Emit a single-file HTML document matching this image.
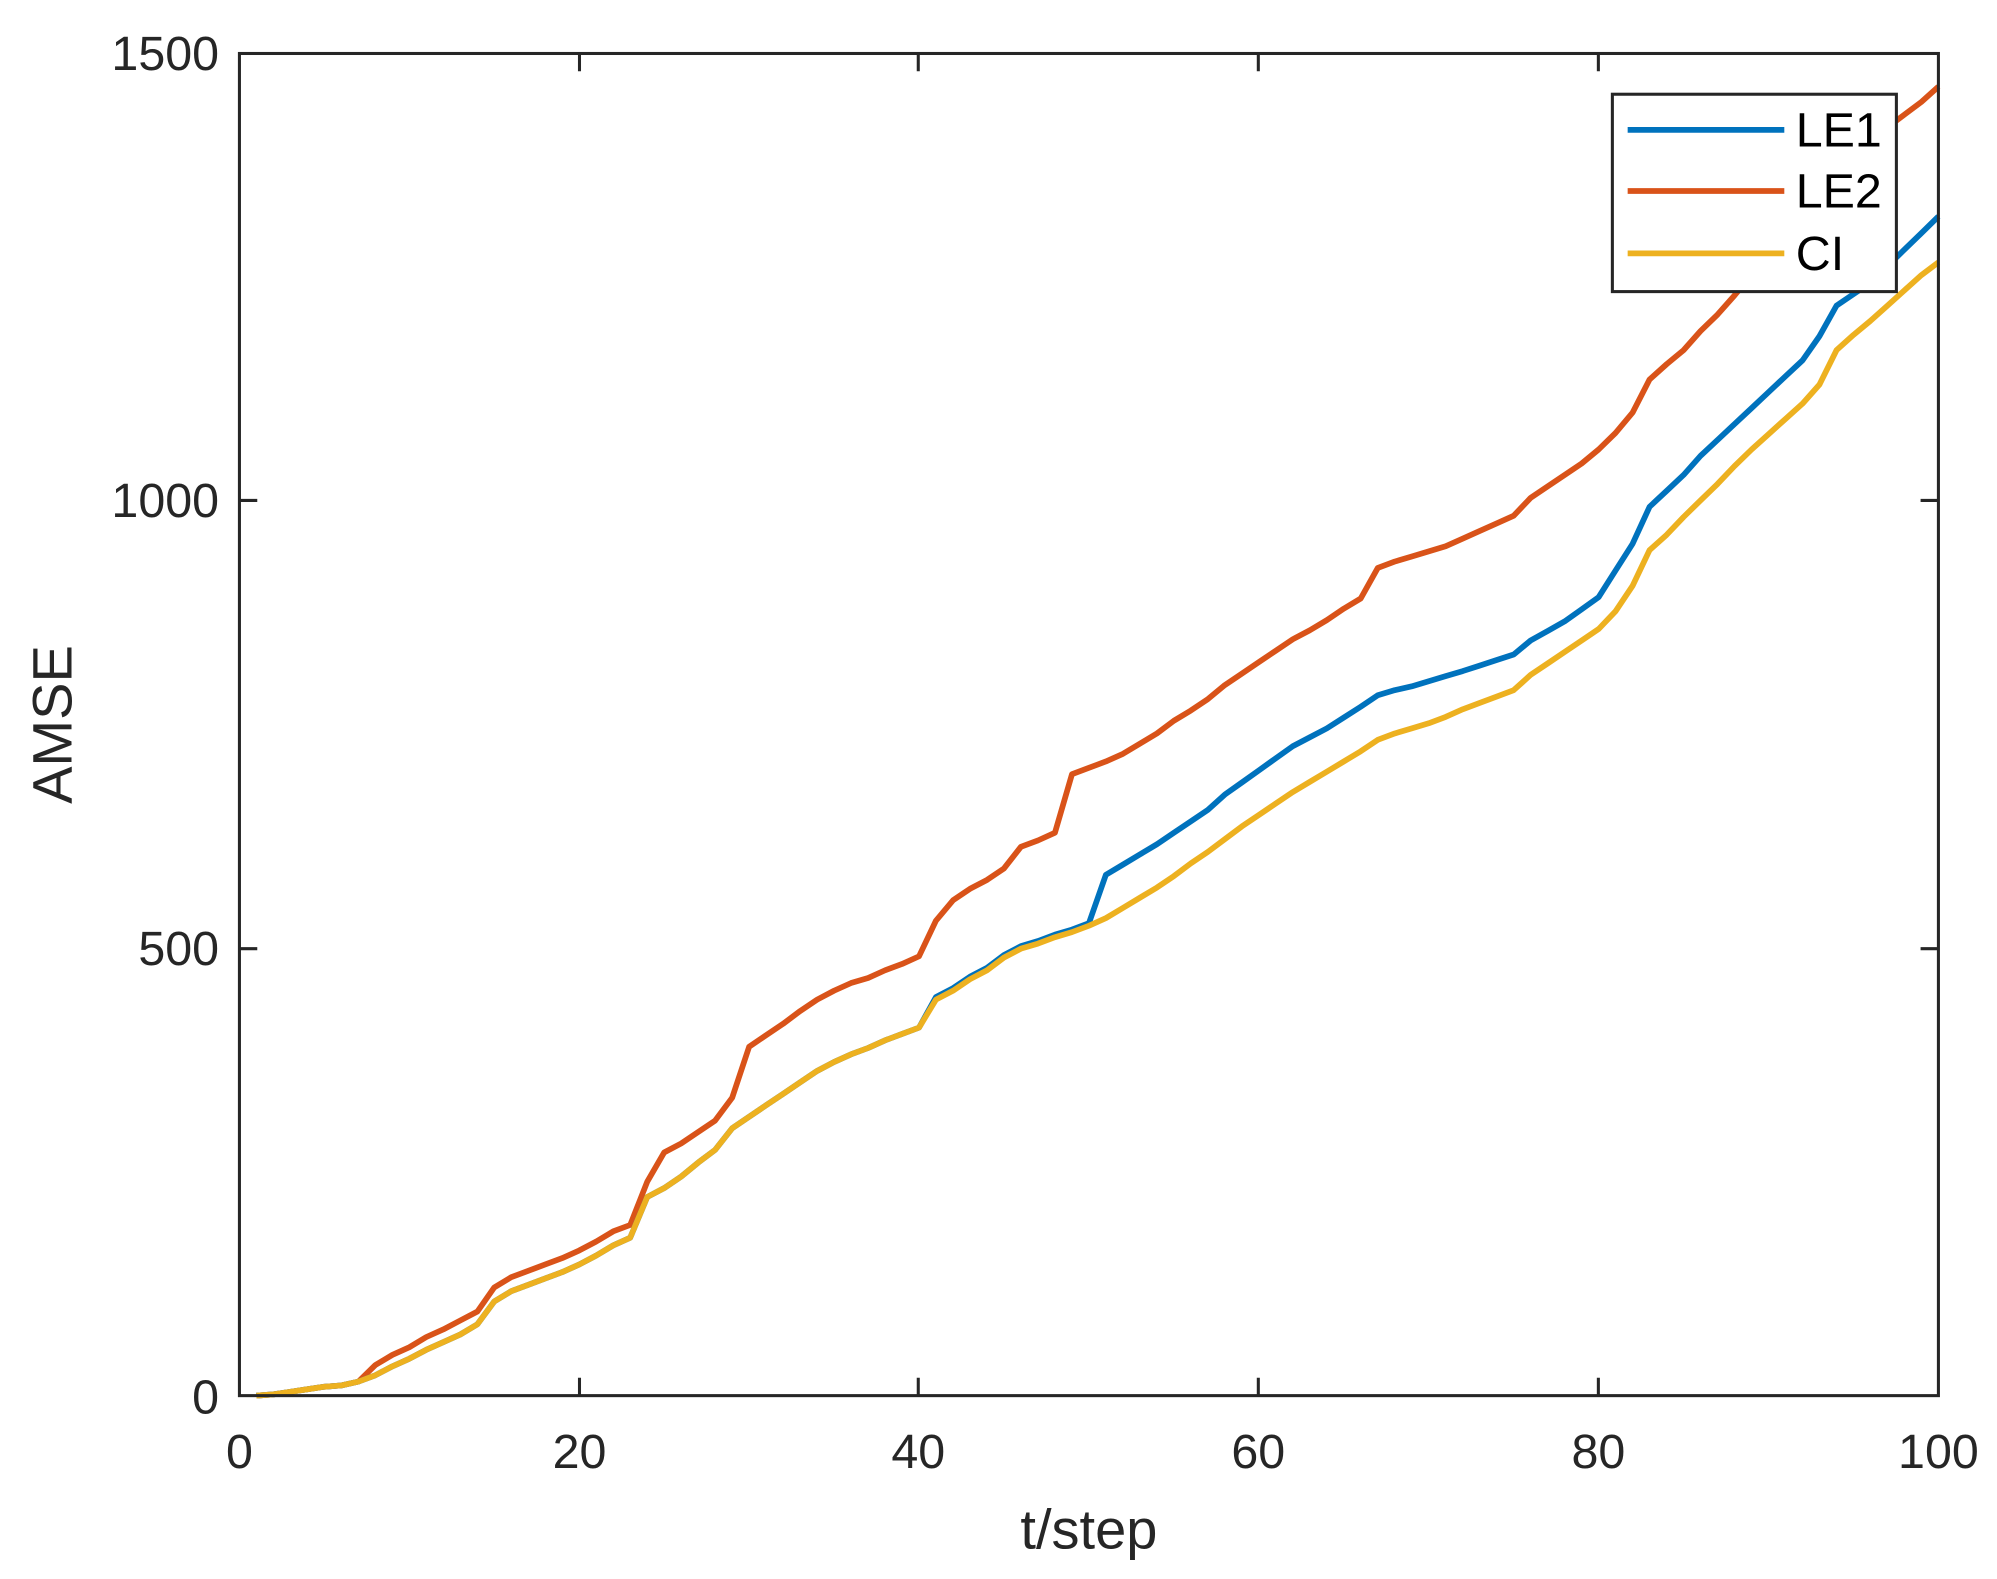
<!DOCTYPE html>
<html><head><meta charset="utf-8"><style>
html,body{margin:0;padding:0;background:#fff;}
svg{display:block;}
text{font-family:"Liberation Sans",Arial,sans-serif;fill:#262626;}
</style></head><body>
<svg width="1997" height="1579" viewBox="0 0 1568 1240" preserveAspectRatio="none" xmlns="http://www.w3.org/2000/svg">
<rect x="0" y="0" width="1568" height="1240" fill="#fff"/>
<g fill="none" stroke-width="4.5" stroke-linejoin="round">
<polyline stroke="#D95319" points="201.3,1096 214.7,1095 228.0,1093 241.4,1091 254.7,1089 268.0,1088 281.4,1085 294.7,1072 308.1,1064 321.4,1058 334.7,1050 348.1,1044 361.4,1037 374.8,1030 388.1,1011 401.4,1003 414.8,998 428.1,993 441.5,988 454.8,982 468.1,975 481.5,967 494.8,962 508.2,928 521.5,905 534.8,898 548.2,889 561.5,880 574.9,862 588.2,822 601.5,813 614.9,804 628.2,794 641.6,785 654.9,778 668.2,772 681.6,768 694.9,762 708.3,757 721.6,751 734.9,723 748.3,707 761.6,698 775.0,691 788.3,682 801.6,665 815.0,660 828.3,654 841.7,608 855.0,603 868.3,598 881.7,592 895.0,584 908.4,576 921.7,566 935.0,558 948.4,549 961.7,538 975.1,529 988.4,520 1001.7,511 1015.1,502 1028.4,495 1041.8,487 1055.1,478 1068.4,470 1081.8,446 1095.1,441 1108.5,437 1121.8,433 1135.1,429 1148.5,423 1161.8,417 1175.2,411 1188.5,405 1201.8,391 1215.2,382 1228.5,373 1241.9,364 1255.2,353 1268.5,340 1281.9,324 1295.2,298 1308.6,286 1321.9,275 1335.2,260 1348.6,247 1361.9,232 1375.3,216 1388.6,200 1401.9,185 1415.3,170 1428.6,155 1442.0,140 1455.3,126 1468.6,112 1482.0,100 1495.3,90 1508.7,80 1522,68"/>
<polyline stroke="#0072BD" points="201.3,1096 214.7,1095 228.0,1093 241.4,1091 254.7,1089 268.0,1088 281.4,1085 294.7,1080 308.1,1073 321.4,1067 334.7,1060 348.1,1054 361.4,1048 374.8,1040 388.1,1022 401.4,1014 414.8,1009 428.1,1004 441.5,999 454.8,993 468.1,986 481.5,978 494.8,972 508.2,940 521.5,933 534.8,924 548.2,913 561.5,903 574.9,886 588.2,877 601.5,868 614.9,859 628.2,850 641.6,841 654.9,834 668.2,828 681.6,823 694.9,817 708.3,812 721.6,807 734.9,783 748.3,776 761.6,767 775.0,760 788.3,750 801.6,743 815.0,739 828.3,734 841.7,730 855.0,725 868.3,687 881.7,679 895.0,671 908.4,663 921.7,654 935.0,645 948.4,636 961.7,624 975.1,614.5 988.4,605 1001.7,595.5 1015.1,586 1028.4,579 1041.8,572 1055.1,563.5 1068.4,555 1081.8,546 1095.1,542 1108.5,539 1121.8,535 1135.1,531 1148.5,527 1161.8,522.7 1175.2,518.3 1188.5,514 1201.8,503 1215.2,495.5 1228.5,488 1241.9,478.5 1255.2,469 1268.5,448 1281.9,427 1295.2,398 1308.6,385.5 1321.9,373 1335.2,358 1348.6,345.5 1361.9,333 1375.3,320.5 1388.6,308 1401.9,295.5 1415.3,283 1428.6,264 1442.0,240 1455.3,231 1468.6,222 1482.0,209 1495.3,196 1508.7,183 1522,170"/>
<polyline stroke="#EDB120" points="201.3,1096 214.7,1095 228.0,1093 241.4,1091 254.7,1089 268.0,1088 281.4,1085 294.7,1080 308.1,1073 321.4,1067 334.7,1060 348.1,1054 361.4,1048 374.8,1040 388.1,1022 401.4,1014 414.8,1009 428.1,1004 441.5,999 454.8,993 468.1,986 481.5,978 494.8,972 508.2,940 521.5,933 534.8,924 548.2,913 561.5,903 574.9,886 588.2,877 601.5,868 614.9,859 628.2,850 641.6,841 654.9,834 668.2,828 681.6,823 694.9,817 708.3,812 721.6,807 734.9,785 748.3,778 761.6,769 775.0,762 788.3,752 801.6,745 815.0,741 828.3,736 841.7,732 855.0,727 868.3,721 881.7,713 895.0,705 908.4,697 921.7,688 935.0,678 948.4,669 961.7,659 975.1,649 988.4,640 1001.7,631 1015.1,622 1028.4,614 1041.8,606 1055.1,598 1068.4,590 1081.8,581 1095.1,576 1108.5,572 1121.8,568 1135.1,563 1148.5,557 1161.8,552 1175.2,547 1188.5,542 1201.8,530 1215.2,521 1228.5,512 1241.9,503 1255.2,494 1268.5,480 1281.9,460 1295.2,432 1308.6,420 1321.9,406 1335.2,393 1348.6,380 1361.9,366 1375.3,353 1388.6,341 1401.9,329 1415.3,317 1428.6,302 1442.0,275 1455.3,263 1468.6,252 1482.0,240 1495.3,228 1508.7,216 1522,206"/>
</g>
<g stroke="#262626" stroke-width="2.4" fill="none">
<rect x="188" y="42" width="1334" height="1054"/>
<path d="M188,745h14M188,393h14M1522,745h-14M1522,393h-14M455,1096v-14M721,1096v-14M988,1096v-14M1255,1096v-14M455,42v14M721,42v14M988,42v14M1255,42v14"/>
</g>
<g font-size="38" text-anchor="end">
<text x="172" y="1110">0</text><text x="172" y="758">500</text><text x="172" y="406">1000</text><text x="172" y="55">1500</text>
</g>
<g font-size="38" text-anchor="middle">
<text x="188" y="1153">0</text><text x="455" y="1153">20</text><text x="721" y="1153">40</text><text x="988" y="1153">60</text><text x="1255" y="1153">80</text><text x="1522" y="1153">100</text>
</g>
<text x="855" y="1216" font-size="44" text-anchor="middle">t/step</text>
<text transform="translate(56,569) rotate(-90)" font-size="44" text-anchor="middle">AMSE</text>
<rect x="1266" y="74" width="223" height="155" fill="#fff" stroke="#262626" stroke-width="2.4"/>
<g stroke-width="4.5">
<line x1="1278" y1="102" x2="1401" y2="102" stroke="#0072BD"/>
<line x1="1278" y1="150" x2="1401" y2="150" stroke="#D95319"/>
<line x1="1278" y1="199" x2="1401" y2="199" stroke="#EDB120"/>
</g>
<g font-size="38">
<text x="1410" y="115" style="fill:#000">LE1</text>
<text x="1410" y="163" style="fill:#000">LE2</text>
<text x="1410" y="212" style="fill:#000">CI</text>
</g>
</svg>
</body></html>
